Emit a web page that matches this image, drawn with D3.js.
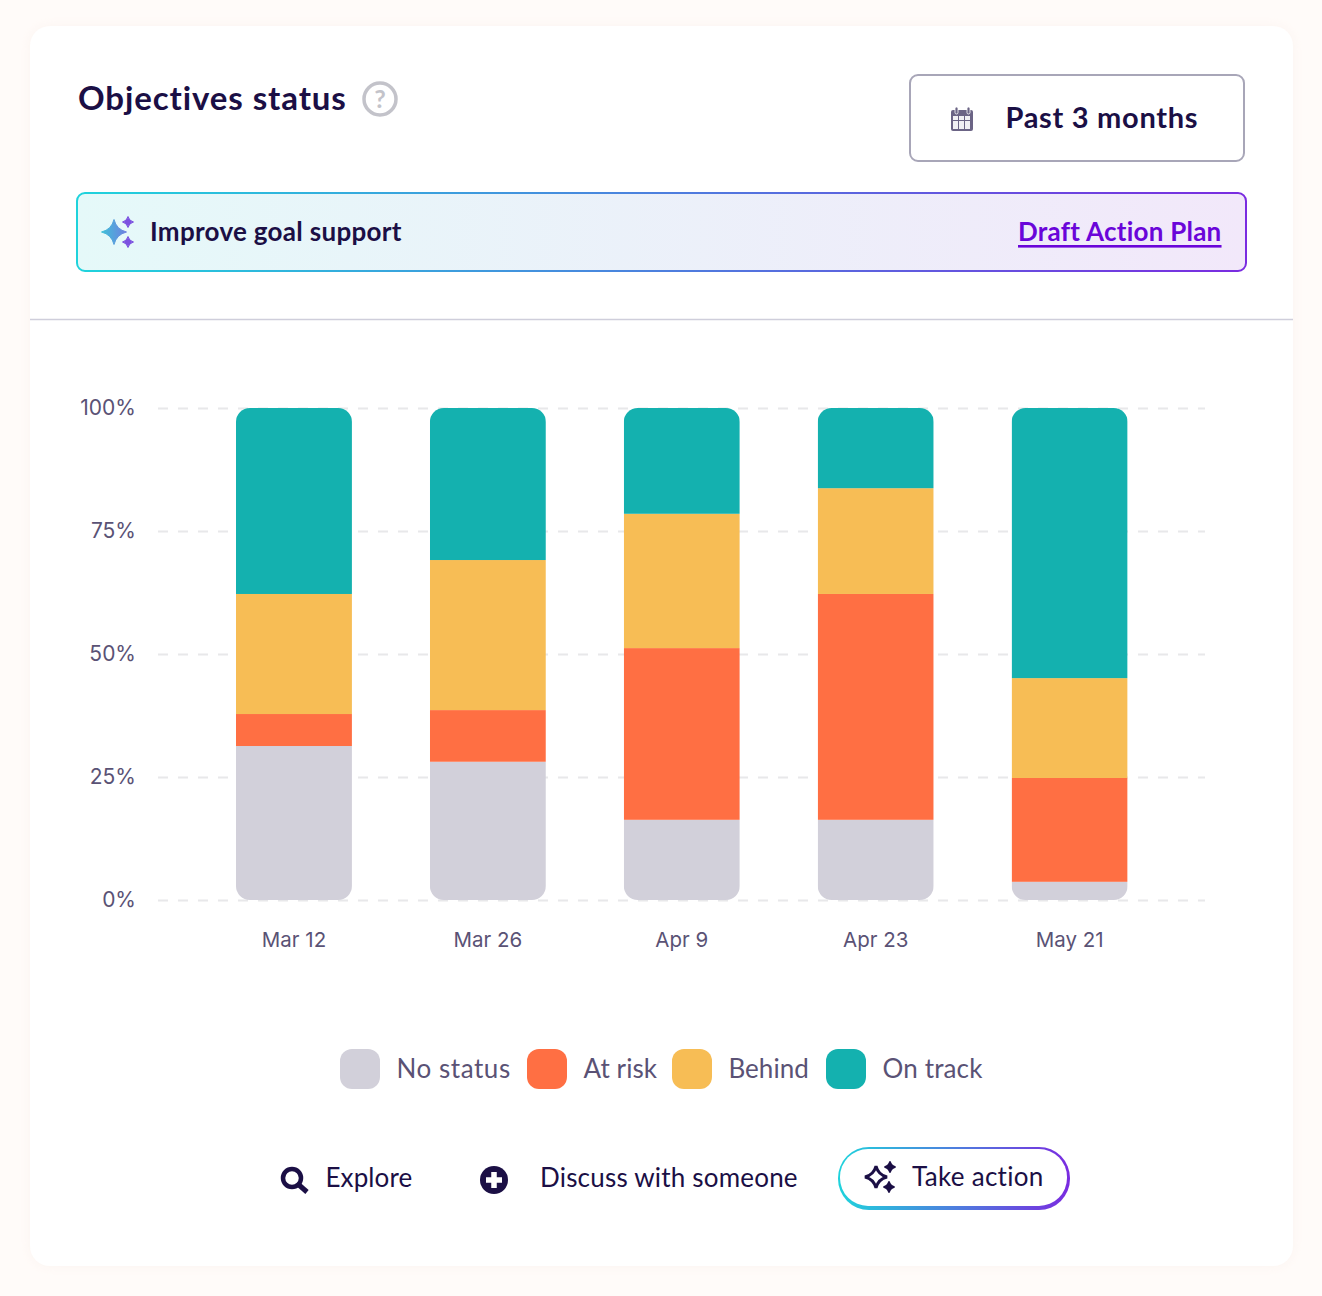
<!DOCTYPE html>
<html>
<head>
<meta charset="utf-8">
<script src="https://cdn.jsdelivr.net/npm/d3@7"></script>
<style>
  html, body { margin: 0; padding: 0; background: #fffbf9; }
  svg { display: block; }
  text { font-family: Lato, "Noto Sans", sans-serif; }
  .axis text { font-family: Inter, sans-serif; font-size: 20.5px; fill: #5a5275; }
  .axis.left text { font-size: 21px; }
</style>
</head>
<body>
<div id="chart"></div>
<script>
const dates = ["Mar 12", "Mar 26", "Apr 9", "Apr 23", "May 21"];
const statuses = ["No status", "At risk", "Behind", "On track"];
const noStatus = [31.3, 28.1, 16.3, 16.3, 3.7];
const atRisk = [6.5, 10.5, 34.9, 45.9, 21.1];
const behind = [24.4, 30.5, 27.3, 21.5, 20.3];
const onTrack = [37.8, 30.9, 21.5, 16.3, 54.9];
const yTicks = [0, 25, 50, 75, 100];
const colors = ["#d2d0da", "#ff6f43", "#f7bd55", "#14b1af"];

const dark = "#1b0f45", grey = "#5a5275";

const svg = d3.select("#chart").append("svg").attr("width", 1322).attr("height", 1296);
const defs = svg.append("defs");

function gradient(id, stops, x1, y1, x2, y2) {
  const g = defs.append("linearGradient").attr("id", id)
    .attr("x1", x1).attr("y1", y1).attr("x2", x2).attr("y2", y2);
  stops.forEach((c, i) => g.append("stop").attr("offset", i / (stops.length - 1)).attr("stop-color", c));
}
gradient("edge", ["#1fd3dc", "#7a2be0"], 0, 0, 1, 0);
gradient("wash", ["#e5f9f9", "#f2e8fa"], 0, 0, 1, 0);
gradient("spark", ["#3fc0d8", "#6f7fe0"], 0, 0, 1, 0);

const shadow = defs.append("filter").attr("id", "soft").attr("x", "-5%").attr("y", "-5%").attr("width", "110%").attr("height", "110%");
shadow.append("feDropShadow").attr("dx", 0).attr("dy", 0).attr("stdDeviation", 6).attr("flood-color", "#f3e6df").attr("flood-opacity", 0.35);

// card
svg.append("rect").attr("x", 30).attr("y", 26).attr("width", 1263).attr("height", 1240).attr("rx", 20)
  .attr("fill", "#fff").attr("filter", "url(#soft)");

function label(x, y, txt, size, weight, fill, spacing) {
  return svg.append("text").attr("x", x).attr("y", y).attr("font-size", size).attr("font-weight", weight)
    .attr("fill", fill).attr("letter-spacing", spacing || 0.01).attr("dominant-baseline", "central").text(txt);
}

// four point star centred on cx,cy
function star(cx, cy, r) {
  const k = r * 0.2;
  return `M${cx},${cy - r}Q${cx + k},${cy - k} ${cx + r},${cy}Q${cx + k},${cy + k} ${cx},${cy + r}Q${cx - k},${cy + k} ${cx - r},${cy}Q${cx - k},${cy - k} ${cx},${cy - r}Z`;
}

// header
label(78, 97, "Objectives status", 33, 700, dark, 0.9);
svg.append("circle").attr("cx", 380).attr("cy", 99).attr("r", 16).attr("fill", "none").attr("stroke", "#c3c3ca").attr("stroke-width", 3.5);
label(380, 98, "?", 25, 700, "#c3c3ca").attr("text-anchor", "middle");

svg.append("rect").attr("x", 910).attr("y", 75).attr("width", 334).attr("height", 86).attr("rx", 8)
  .attr("fill", "#fff").attr("stroke", "#a8a6b8").attr("stroke-width", 2);
const cal = svg.append("g").attr("transform", "translate(951,107)");
cal.append("rect").attr("y", 3).attr("width", 22).attr("height", 21).attr("rx", 2).attr("fill", "#6b6485");
[3, 9, 15].forEach(x => [10, 15, 19].forEach(y =>
  cal.append("rect").attr("x", x - 1).attr("y", y - 1).attr("width", 5).attr("height", 4).attr("fill", "#f1f0f4")));
[5, 17].forEach(x => cal.append("rect").attr("x", x - 1).attr("y", 0).attr("width", 3).attr("height", 7).attr("rx", 1.5)
  .attr("fill", "#6b6485").attr("stroke", "#fff").attr("stroke-width", 0.8));
label(1005.5, 116, "Past 3 months", 29, 700, dark, 0.7);

// banner
svg.append("rect").attr("x", 77).attr("y", 193).attr("width", 1169).attr("height", 78).attr("rx", 8)
  .attr("fill", "url(#wash)").attr("stroke", "url(#edge)").attr("stroke-width", 2);
svg.append("path").attr("fill", "url(#spark)").attr("stroke", "url(#spark)").attr("d", star(114, 232, 12.5));
svg.append("path").attr("fill", "#7c52e0").attr("stroke", "#7c52e0").attr("d", star(128, 222, 5.5));
svg.append("path").attr("fill", "#7c52e0").attr("stroke", "#7c52e0").attr("d", star(128, 242, 5.5));
label(150, 231, "Improve goal support", 26, 700, dark, 0.3);
label(1018, 231, "Draft Action Plan", 26, 700, "#6a05d9", 0.25).attr("text-decoration", "underline");

svg.append("line").attr("x1", 30).attr("x2", 1293).attr("y1", 319.5).attr("y2", 319.5).attr("stroke", "#cfcedb").attr("stroke-width", 1.5);

// chart
const x = d3.scaleBand().domain(dates).range([236, 1127.6]).paddingInner(78 / 194).paddingOuter(0);
const y = d3.scaleLinear().domain([0, 100]).range([900, 408]);

const yAxis = svg.append("g").attr("class", "axis left").attr("transform", "translate(158,0)")
  .call(d3.axisLeft(y).tickValues(yTicks).tickFormat(d => d + "%").tickSize(-1047).tickPadding(22));
yAxis.select(".domain").remove();
yAxis.selectAll("line").attr("stroke", "#e8e8ea").attr("stroke-width", 2).attr("stroke-dasharray", "10 10");
yAxis.selectAll("text").attr("dy", "0.3em");

const xAxis = svg.append("g").attr("class", "axis").attr("transform", "translate(0,900)")
  .call(d3.axisBottom(x).tickSize(0).tickPadding(32));
xAxis.select(".domain").remove();

const rows = dates.map((d, i) => ({
  date: d,
  "No status": noStatus[i], "At risk": atRisk[i], "Behind": behind[i], "On track": onTrack[i]
}));
const layers = d3.stack().keys(statuses)(rows);

// one rounded clip per bar, the segments inside stay square
dates.forEach((d, i) => {
  defs.append("clipPath").attr("id", "bar" + i).append("rect")
    .attr("x", x(d)).attr("y", y(100)).attr("width", x.bandwidth()).attr("height", y(0) - y(100)).attr("rx", 14);
});

layers.forEach((layer, k) => {
  svg.append("g").attr("fill", colors[k]).selectAll("rect").data(layer).join("rect")
    .attr("x", d => x(d.data.date))
    .attr("width", x.bandwidth())
    .attr("y", d => y(d[1]))
    .attr("height", d => y(d[0]) - y(d[1]))
    .attr("clip-path", (d, i) => `url(#bar${i})`);
});

// legend
const legendX = [340, 527, 672, 826];
const legendSpacing = [0.55, 0.1, 0.01, 0.15];
statuses.forEach((s, i) => {
  svg.append("rect").attr("x", legendX[i]).attr("y", 1049).attr("width", 40).attr("height", 40).attr("rx", 12).attr("fill", colors[i]);
  label(legendX[i] + 56.5, 1068, s, 26, 400, grey, legendSpacing[i]);
});

// actions
svg.append("circle").attr("cx", 292).attr("cy", 1178).attr("r", 9).attr("fill", "none").attr("stroke", dark).attr("stroke-width", 4.5);
svg.append("line").attr("x1", 299).attr("y1", 1185).attr("x2", 307).attr("y2", 1192).attr("stroke", dark).attr("stroke-width", 5);
label(325.5, 1177, "Explore", 26, 400, dark, 0.1);

svg.append("circle").attr("cx", 494).attr("cy", 1180).attr("r", 14).attr("fill", dark);
svg.append("path").attr("d", "M486,1180H502M494,1172V1188").attr("stroke", "#fff").attr("stroke-width", 5.5);
label(540, 1177, "Discuss with someone", 26, 400, dark, 0.2);

svg.append("rect").attr("x", 838).attr("y", 1147).attr("width", 232).attr("height", 63).attr("rx", 31).attr("fill", "url(#edge)");
svg.append("rect").attr("x", 840).attr("y", 1149).attr("width", 227).attr("height", 57).attr("rx", 28).attr("fill", "#fff");
svg.append("path").attr("d", star(876, 1177, 11)).attr("fill", "none").attr("stroke", dark).attr("stroke-width", 3);
svg.append("path").attr("d", star(890, 1167, 5.5)).attr("fill", dark).attr("stroke", dark).attr("stroke-width", 1.5);
svg.append("path").attr("d", star(889, 1187, 5.5)).attr("fill", dark).attr("stroke", dark).attr("stroke-width", 1.5);
label(912, 1176, "Take action", 26, 400, dark, 0.3);
</script>
</body>
</html>
